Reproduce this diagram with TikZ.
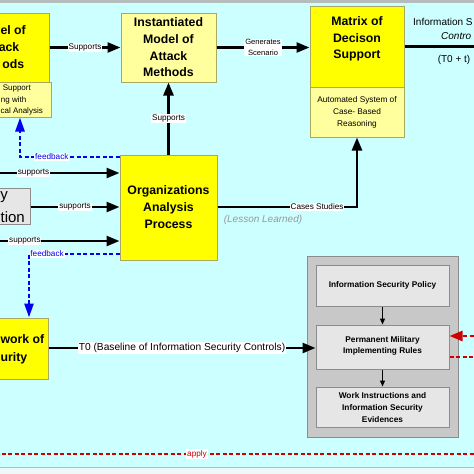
\documentclass[tikz,border=0pt]{standalone}
\usepackage{fontspec}
\setmainfont{Liberation Sans}
\usetikzlibrary{arrows.meta}
\definecolor{bg}{HTML}{CCFFFF}
\definecolor{topgray}{HTML}{B4BCBC}
\definecolor{botlight}{HTML}{EEF8F8}
\definecolor{ybright}{HTML}{FFFF00}
\definecolor{ylight}{HTML}{FFFF9E}
\definecolor{yedge}{HTML}{A8A860}
\definecolor{gfill}{HTML}{C8C8C8}
\definecolor{gbox}{HTML}{E6E6E6}
\definecolor{gedge}{HTML}{8C8C8C}
\definecolor{fbblue}{HTML}{0000EE}
\definecolor{apred}{HTML}{CC0000}
\definecolor{lessgray}{HTML}{999999}
\begin{document}
\begin{tikzpicture}[x=1pt,y=-1pt,
  ybox/.style={draw=yedge, line width=1pt, fill=ybright, inner sep=0pt},
  lybox/.style={draw=yedge, line width=1pt, fill=ylight, inner sep=0pt},
  greybox/.style={draw=gedge, line width=1pt, fill=gbox, inner sep=0pt},
  bigbold/.style={font=\fontsize{12.3}{16.7}\selectfont\bfseries, align=center, inner sep=0pt},
  frag/.style={inner sep=0pt, anchor=east},
  smalltxt/.style={font=\fontsize{8.3}{12}\selectfont, align=center, inner sep=0pt},
  smallbold/.style={font=\fontsize{8.3}{11.7}\selectfont\bfseries, align=center, inner sep=0pt},
  lbl/.style={fill=white, inner sep=0.8pt, font=\fontsize{8.2}{9.5}\selectfont, align=center},
  conn/.style={line width=2.5pt, black},
  arr/.style={conn, -{Triangle[length=13pt,width=10pt]}},
  smallarr/.style={line width=1.2pt, black, -{Triangle[length=6pt,width=5pt]}},
  fbline/.style={line width=2.5pt, fbblue, dash pattern=on 4pt off 2.5pt},
  fbarr/.style={fbline, -{Triangle[length=14pt,width=9pt]}},
  redline/.style={line width=2.5pt, apred, dash pattern=on 4pt off 2.5pt},
  redarr/.style={redline, -{Triangle[length=13pt,width=10pt]}}
]
\useasboundingbox (0,0) rectangle (474,474);
\clip (0,0) rectangle (474,474);
% background
\fill[botlight] (0,0) rectangle (474,474);
\fill[bg] (0,3) rectangle (474,467);
\fill[topgray] (0,0) rectangle (474,3);
\draw[topgray, line width=1pt] (0,467) -- (474,467);

% Model of Attack Methods (cut at left edge)
\node[ybox, minimum width=99pt, minimum height=69pt] (A) at (-0.5,47.5) {};
\node[frag, font=\fontsize{12.3}{16.7}\selectfont\bfseries] (Aa) at (26,30) {el of};
\node[frag, font=\fontsize{12.3}{16.7}\selectfont\bfseries] (Ab) at (19.5,47) {ack};
\node[frag, font=\fontsize{12.3}{16.7}\selectfont\bfseries] (Ac) at (24.5,64) {ods};
\node[lybox, minimum width=101pt, minimum height=35pt] (A2) at (0.5,99.5) {};
\node[frag, font=\fontsize{8}{12}\selectfont] (A2a) at (31,89) {Support};
\node[frag, font=\fontsize{8}{12}\selectfont] (A2b) at (26.5,100) {ng with};
\node[frag, font=\fontsize{8}{12}\selectfont] (A2c) at (43,111) {cal Analysis};

% Instantiated Model
\node[lybox, minimum width=95pt, minimum height=69pt] (B) at (168.5,47.5) {};
\node[bigbold] (Bt) at (168.5,47.5) {Instantiated\\Model of\\Attack\\Methods};

% Matrix of Decison Support
\node[ybox, minimum width=94pt, minimum height=81pt] (D) at (357,46.5) {};
\node[bigbold] (Dt) at (357,39) {Matrix of\\Decison\\Support};
\node[lybox, minimum width=94pt, minimum height=50pt] (D2) at (357,112) {};
\node[smalltxt] (D2t) at (357,112) {Automated System of\\Case- Based\\Reasoning};

% Organizations Analysis Process
\node[ybox, minimum width=97pt, minimum height=105pt] (C) at (168.5,207.5) {};
\node[bigbold] (Ct) at (168.5,207) {Organizations\\Analysis\\Process};

% grey box at left edge
\node[draw=gedge, line width=1pt, fill=gbox, minimum width=70pt, minimum height=36pt] (E) at (-5,206) {};
\node[frag, font=\fontsize{15}{18}\selectfont] (Ea) at (8,197) {y};
\node[frag, font=\fontsize{15}{18}\selectfont] (Eb) at (25,217) {tion};

% Framework box at left edge
\node[ybox, minimum width=108pt, minimum height=61pt] (F) at (-6,348.5) {};
\node[frag, font=\fontsize{12.3}{16.7}\selectfont\bfseries] (Fa) at (44.5,339) {work of};
\node[frag, font=\fontsize{12.3}{16.7}\selectfont\bfseries] (Fb) at (27.5,358) {urity};

% grey container
\node[draw=gedge, line width=1pt, fill=gfill, minimum width=151pt, minimum height=181pt] (G) at (382.5,346.5) {};
\node[greybox, minimum width=133pt, minimum height=41pt] (G1) at (382.5,285.5) {};
\node[smallbold] (G1t) at (382.5,285.5) {Information Security Policy};
\node[greybox, minimum width=133pt, minimum height=44pt] (G2) at (382.5,347) {};
\node[smallbold] (G2t) at (382.5,346) {Permanent Military\\Implementing Rules};
\node[greybox, minimum width=133pt, minimum height=40pt] (G3) at (382.5,407) {};
\node[smallbold] (G3t) at (382.5,407.5) {Work Instructions and\\Information Security\\Evidences};

% connectors
\draw[arr] (A.east) -- (B.west) node[lbl, midway] (l1) {Supports};
\draw[arr] (C.north) -- (B.south) node[lbl, midway] (l2) {Supports};
\draw[arr] (B.east) -- (B.east -| D.west) node[lbl, midway, font=\fontsize{7.6}{10.5}\selectfont] (l3) {Generates\\Scenario};
\coordinate (Rend) at (480,46.5);
\draw[conn] (D.east) -- (Rend);
\node[anchor=west, inner sep=0pt, font=\fontsize{10}{12}\selectfont] (t1) at (413,22) {Information S};
\node[anchor=west, inner sep=0pt, font=\fontsize{10}{12}\selectfont\itshape] (t2) at (441,36) {Contro};
\node[inner sep=0pt, font=\fontsize{10}{12}\selectfont] (t3) at (454,60) {(T0 + t)};

\draw[arr] (C.east |- 0,207) -| (D2.south) node[lbl, pos=0.357] (l4) {Cases Studies};
\node[inner sep=0pt, font=\fontsize{10}{12}\selectfont\itshape, text=lessgray] (ll) at (263,220) {(Lesson Learned)};

\coordinate (L1) at (-5,173);
\coordinate (L3) at (-5,241);
\draw[arr] (L1) -- (L1 -| C.west) node[lbl, pos=0.31] (l5) {supports};
\draw[arr] (E.east |- 0,207) -- (C.west |- 0,207) node[lbl, midway] (l6) {supports};
\draw[arr] (L3) -- (L3 -| C.west) node[lbl, pos=0.24] (l7) {supports};

\coordinate (FB1) at (20,157);
\draw[fbarr] (FB1 -| C.west) -- (FB1) node[lbl, pos=0.68] (l8) {feedback} -- (FB1 |- A2.south);
\coordinate (FB2) at (29,254);
\draw[fbarr] (FB2 -| C.west) -- (FB2) node[lbl, pos=0.80] (l9) {feedback} -- (FB2 |- F.north);

\draw[arr] (F.east |- 0,348) -- (G2.west |- 0,348) node[lbl, midway, font=\fontsize{10.2}{12}\selectfont] (l10) {T0 (Baseline of Information Security Controls)};

\draw[smallarr] (G1.south) -- (G2.north);
\draw[smallarr] (G2.south) -- (G3.north);

\coordinate (Rr1) at (480,336);
\coordinate (Rr2) at (480,357);
\draw[redarr] (Rr1) -- (Rr1 -| G2.east);
\draw[redline] (G2.east |- Rr2) -- (Rr2);
\coordinate (Ap1) at (-5,454);
\coordinate (Ap2) at (480,454);
\draw[redline] (Ap1) -- (Ap2) node[lbl, pos=0.4165] (l11) {apply};
\end{tikzpicture}
\end{document}
